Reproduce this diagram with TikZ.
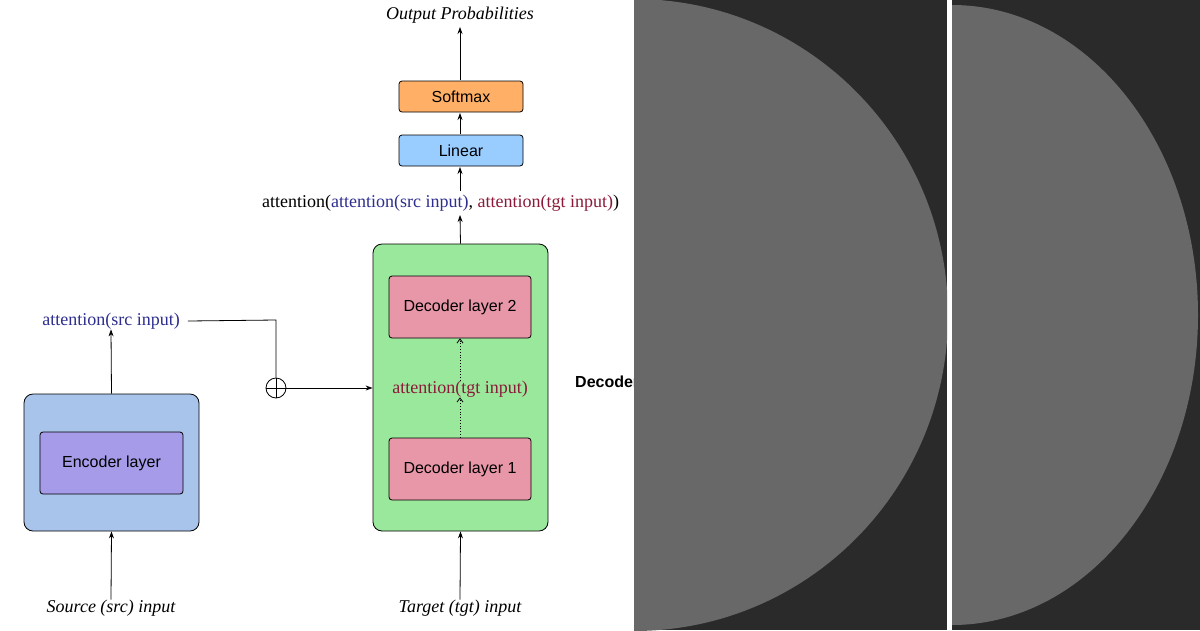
\documentclass[tikz,border=0pt]{standalone}
\usepackage{fontspec}
\setmainfont{Liberation Serif}
\newfontfamily\sansf{Liberation Sans}
\usetikzlibrary{arrows.meta}
\definecolor{encout}{HTML}{A9C4EB}
\definecolor{encin}{HTML}{A69BE8}
\definecolor{decout}{HTML}{99E89B}
\definecolor{decin}{HTML}{E897A8}
\definecolor{linc}{HTML}{99CCFF}
\definecolor{softc}{HTML}{FFB066}
\definecolor{srcc}{HTML}{2E2E8F}
\definecolor{tgtc}{HTML}{8B1A3A}
\definecolor{darkbg}{HTML}{2A2A2A}
\definecolor{grayc}{HTML}{686868}
\begin{document}
\begin{tikzpicture}[x=1pt,y=-1pt,
  box/.style={draw=black,line width=0.8pt,rounded corners=3pt,font=\sansf\fontsize{16}{18}\selectfont,inner sep=0pt},
  outer/.style={draw=black,line width=0.8pt,rounded corners=9pt,inner sep=0pt},
  lbl/.style={font=\fontsize{18}{20}\selectfont,inner sep=0pt},
  arr/.style={-{Stealth[length=7pt,width=5pt]},line width=0.8pt},
  darr/.style={-{Straight Barb[length=4pt,width=6pt]},line width=0.8pt,dotted}]
\useasboundingbox (0,0) rectangle (1200,630);
\fill[white] (0,0) rectangle (1200,630);
% encoder
\node[outer,fill=encout,minimum width=175pt,minimum height=137pt] (enc) at (111.5,462.5) {};
\node[box,fill=encin,minimum width=143pt,minimum height=62pt] (encl) at (111.5,463) {Encoder layer};
\node[lbl,font=\itshape\fontsize{18}{20}\selectfont] (src) at (111,608) {Source (src) input};
\node[lbl,text=srcc] (asrc) at (111,321) {attention(src input)};
\draw[arr] (src.north) -- (enc.south);
\draw[arr] (enc.north) -- (asrc.south);
% plus
\node[draw,circle,minimum size=20pt,inner sep=0pt,line width=0.8pt] (plus) at (276,388) {};
\draw[line width=0.8pt] (plus.north) -- (plus.south) (plus.west) -- (plus.east);
\coordinate (corner) at (276,320);
\draw[line width=0.8pt] (asrc.east) ++(8,0) -- (corner) -- (plus.north);
% decoder
\node[outer,fill=decout,minimum width=175pt,minimum height=287pt] (dec) at (460.5,387.5) {};
\node[box,fill=decin,minimum width=142pt,minimum height=62pt] (d2) at (460,307) {Decoder layer 2};
\node[box,fill=decin,minimum width=142pt,minimum height=62pt] (d1) at (460,469) {Decoder layer 1};
\node[lbl,text=tgtc] (atgt) at (460,389) {attention(tgt input)};
\draw[darr] (d1.north) -- (atgt.south);
\draw[darr] (atgt.north) -- (d2.south);
\draw[arr] (plus.east) -- (dec.west|-plus.east);
\node[lbl,font=\itshape\fontsize{18}{20}\selectfont] (tgt) at (460,608) {Target (tgt) input};
\draw[arr] (tgt.north) -- (dec.south);
\node[lbl,anchor=west,font=\sansf\bfseries\fontsize{16}{18}\selectfont] (declab) at (575,382) {Decoder};
% top
\node[lbl,anchor=west] (comb) at (262,203) {attention(\textcolor{srcc}{attention(src input)}, \textcolor{tgtc}{attention(tgt input)})};
\coordinate (combtop) at (460,191);
\coordinate (combbot) at (460,215);
\draw[arr] (dec.north) -- (combbot);
\node[box,fill=linc,minimum width=124pt,minimum height=31pt] (lin) at (461,150.5) {Linear};
\node[box,fill=softc,minimum width=124pt,minimum height=31pt] (soft) at (461,96.5) {Softmax};
\draw[arr] (combtop) -- (460,167);
\draw[arr] (460,134) -- (460,113);
\node[lbl,font=\itshape\fontsize{18}{20}\selectfont] (out) at (460,15) {Output Probabilities};
\draw[arr] (460,80) -- (460,27);
% overlay panels
\fill[darkbg] (634,0) rectangle (947,630);
\fill[white] (947,0) rectangle (952,630);
\fill[darkbg] (952,0) rectangle (1200,630);
\begin{scope}
\clip (634,0) rectangle (947,630);
\fill[grayc] (634,315) ellipse [x radius=314, y radius=316];
\end{scope}
\begin{scope}
\clip (952,0) rectangle (1200,630);
\fill[grayc] (952,315) ellipse [x radius=246, y radius=310];
\end{scope}
\end{tikzpicture}
\end{document}
